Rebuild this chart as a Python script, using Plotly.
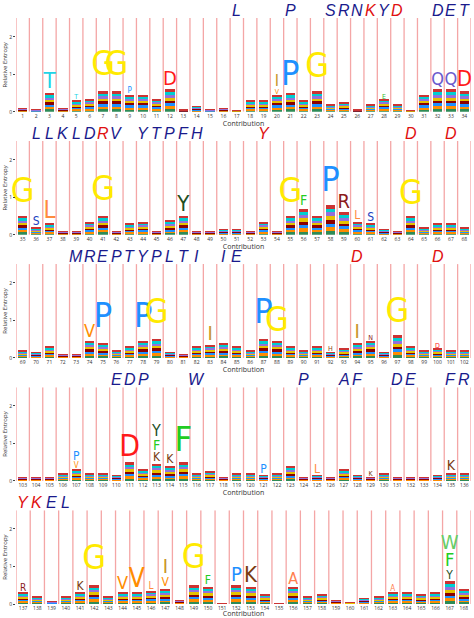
import plotly.graph_objects as go
from plotly.subplots import make_subplots

# ---------- data ----------
row_starts = [1, 35, 69, 103, 137]
row_ends = [34, 68, 102, 136, 168]

base1 = [0.1,0.07,0.5,0.1,0.3,0.35,0.55,0.55,0.45,0.45,0.35,0.6,0.05,0.15,0.07,0.1,0.04,0.3,0.3,0.45,0.5,0.3,0.55,0.2,0.25,0.05,0.2,0.35,0.2,0.04,0.45,0.6,0.6,0.55]
base2 = [0.5,0.2,0.3,0.1,0.1,0.35,0.5,0.1,0.3,0.35,0.1,0.4,0.5,0.1,0.1,0.15,0.15,0.1,0.35,0.1,0.5,0.7,0.5,0.8,0.6,0.35,0.3,0.15,0.1,0.5,0.2,0.3,0.3,0.2]
base3 = [0.2,0.15,0.3,0.1,0.1,0.45,0.4,0.2,0.3,0.45,0.5,0.15,0.1,0.3,0.35,0.4,0.3,0.2,0.5,0.45,0.3,0.2,0.3,0.15,0.25,0.4,0.45,0.15,0.6,0.3,0.2,0.25,0.2,0.2]
base4 = [0.1,0.1,0.1,0.2,0.3,0.2,0.2,0.15,0.5,0.3,0.45,0.4,0.5,0.2,0.25,0.1,0.2,0.2,0.15,0.2,0.4,0.1,0.15,0.1,0.3,0.15,0.1,0.2,0.1,0.1,0.1,0.15,0.2,0.2]
base5 = [0.3,0.2,0.07,0.2,0.3,0.5,0.2,0.3,0.3,0.35,0.4,0.1,0.5,0.45,0.01,0.5,0.45,0.25,0.01,0.45,0.2,0.25,0.1,0.04,0.15,0.2,0.3,0.3,0.25,0.3,0.6,0.4]
bases = [base1, base2, base3, base4, base5]

dom_letters = {
    3:[("T",0.55)],5:[("T",0.15)],7:[("G",1.3)],8:[("G",1.3)],9:[("P",0.2)],12:[("D",0.5)],
    20:[("V",0.15),("I",0.4)],21:[("P",0.9)],23:[("G",1.2)],28:[("E",0.1)],
    32:[("Q",0.45)],33:[("Q",0.45)],34:[("D",0.55)],
    35:[("G",1.2)],36:[("S",0.3)],37:[("L",0.6)],41:[("G",1.3)],47:[("Y",0.55)],
    55:[("G",1.2)],56:[("F",0.35)],58:[("P",1.2)],59:[("R",0.5)],60:[("L",0.3)],61:[("S",0.3)],64:[("G",1.1)],
    74:[("V",0.45)],75:[("P",1.3)],78:[("P",1.2)],79:[("G",1.3)],83:[("I",0.5)],
    87:[("P",1.3)],88:[("G",1.0)],92:[("H",0.15)],94:[("I",0.5)],95:[("N",0.15)],97:[("G",1.15)],100:[("D",0.1)],
    107:[("V",0.2),("P",0.3)],111:[("D",0.75)],113:[("K",0.3),("F",0.35),("Y",0.4)],114:[("K",0.3)],
    115:[("F",1.05)],121:[("P",0.3)],125:[("L",0.3)],129:[("K",0.15)],135:[("K",0.35)],
    137:[("R",0.25)],141:[("K",0.3)],142:[("G",1.3)],144:[("V",0.45)],145:[("V",0.65)],146:[("L",0.25)],
    147:[("V",0.3),("I",0.5)],149:[("G",1.35)],150:[("F",0.3)],152:[("P",0.5)],153:[("K",0.55)],
    156:[("A",0.4)],163:[("A",0.2)],167:[("Y",0.3),("F",0.45),("W",0.5)],
}

seq_labels = [
    [(17,"L",0),(21,"P",0),(24,"S",0),(25,"R",0),(26,"N",0),(27,"K",1),(28,"Y",0),(29,"D",1),(32,"D",0),(33,"E",0),(34,"T",0)],
    [(36,"L",0),(37,"L",0),(38,"K",0),(39,"L",0),(40,"D",0),(41,"R",1),(42,"V",0),(44,"Y",0),(45,"T",0),(46,"P",0),(47,"F",0),(48,"H",0),(53,"Y",1),(64,"D",1),(67,"D",1)],
    [(73,"M",0),(74,"R",0),(75,"E",0),(76,"P",0),(77,"T",0),(78,"Y",0),(79,"P",0),(80,"L",0),(81,"T",0),(82,"I",0),(84,"I",0),(85,"E",0),(94,"D",1),(100,"D",1)],
    [(110,"E",0),(111,"D",0),(112,"P",0),(116,"W",0),(124,"P",0),(127,"A",0),(128,"F",0),(131,"D",0),(132,"E",0),(135,"F",0),(136,"R",0)],
    [(137,"Y",1),(138,"K",1),(139,"E",0),(140,"L",0)],
]

letter_colors = {"G":"#ffea00","P":"#1e90ff","D":"#ff1a1a","T":"#22d3e6","Q":"#6a5acd","S":"#2040c0",
                 "L":"#ff8a3d","Y":"#1f4f1f","F":"#22cc22","E":"#33bb33","K":"#7a3a10","R":"#8b1a1a",
                 "V":"#ff8c00","I":"#c8962a","H":"#8b4513","N":"#8b1a1a","A":"#ff7f50","W":"#66cc66"}
clutter_colors = ["#2e8b57","#ff8c00","#1e90ff","#8b0000","#e6c200","#9370db","#00ced1","#cc3333"]

fig = make_subplots(rows=5, cols=1, vertical_spacing=0.05)
for r in range(5):
    s, e = row_starts[r], row_ends[r]
    pos = list(range(s, e + 1))
    base = bases[r]
    nseg = len(clutter_colors)
    for k, c in enumerate(clutter_colors):
        fig.add_trace(go.Bar(x=pos, y=[b / nseg for b in base], marker_color=c, marker_line_width=0,
                             width=0.7, showlegend=False, hoverinfo="skip"), row=r + 1, col=1)
    tx, ty, tt, tc, ts = [], [], [], [], []
    for p in pos:
        if p in dom_letters:
            y0 = base[p - s]
            for L, h in dom_letters[p]:
                tx.append(p); ty.append(y0 + h / 2); tt.append(L)
                tc.append(letter_colors.get(L, "#444")); ts.append(max(7, min(34, h * 40)))
                y0 += h
    fig.add_trace(go.Scatter(x=tx, y=ty, mode="text", text=tt,
                             textfont=dict(color=tc, size=ts, family="Liberation Sans Narrow, DejaVu Sans Condensed, Arial"),
                             textposition="middle center", showlegend=False, hoverinfo="skip",
                             cliponaxis=False), row=r + 1, col=1)
    xref = "x" if r == 0 else f"x{r+1}"
    yref = "y" if r == 0 else f"y{r+1}"
    for p in range(s, e + 2):
        fig.add_shape(type="line", x0=p - 0.5, x1=p - 0.5, y0=0, y1=2.5, xref=xref, yref=yref,
                      line=dict(color="#f4a6a6", width=1.3), layer="below")
    for p, L, red in seq_labels[r]:
        fig.add_annotation(x=p, y=1.0, xref=xref, yref=yref + " domain", text=L, showarrow=False,
                           font=dict(size=16, color="#e01010" if red else "#1a1a8c", family="Arial", style="italic"),
                           yanchor="bottom", yshift=-3)
    fig.update_xaxes(range=[s - 0.5, e + 0.5], tickmode="array", tickvals=pos, ticktext=[str(p) for p in pos],
                     tickfont=dict(size=5, color="#333"), showgrid=False, ticks="", showline=False,
                     title=dict(text="Contribution", font=dict(size=7, color="#333"), standoff=0),
                     row=r + 1, col=1)
    fig.update_yaxes(range=[0, 2.5], tickvals=[0, 1, 2], tickfont=dict(size=5, color="#333"),
                     showgrid=False, zeroline=False, ticks="outside", ticklen=2,
                     title=dict(text="Relative Entropy", font=dict(size=6, color="#333"), standoff=0),
                     row=r + 1, col=1)

fig.update_layout(barmode="stack", width=474, height=618, plot_bgcolor="white",
                  paper_bgcolor="white", margin=dict(l=16, r=3, t=18, b=14))
fig.write_html("out.html", config={"displayModeBar": False},
               post_script="document.body.style.margin='0';document.body.style.overflow='hidden';")
